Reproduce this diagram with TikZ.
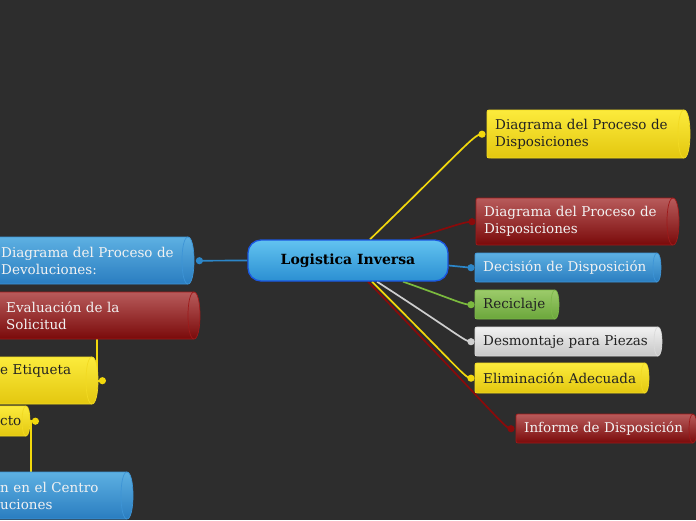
\documentclass[tikz,border=0pt]{standalone}
\usepackage{fontspec}
\setmainfont{DejaVu Serif}
\usetikzlibrary{calc}
\definecolor{bgc}{HTML}{2D2D2D}
\definecolor{ctrtop}{HTML}{62C3F0}
\definecolor{ctrbot}{HTML}{2B8FD2}
\definecolor{ctredge}{HTML}{1A56E0}
\definecolor{bluetop}{HTML}{5DB0E2}
\definecolor{bluebot}{HTML}{2A7DC0}
\definecolor{blueedgec}{HTML}{3D94D6}
\definecolor{redtop}{HTML}{B85B5B}
\definecolor{redbot}{HTML}{7A0A0A}
\definecolor{rededgec}{HTML}{9E1A1A}
\definecolor{yeltop}{HTML}{FCEB3C}
\definecolor{yelbot}{HTML}{E3C70F}
\definecolor{yeledgec}{HTML}{F2DA22}
\definecolor{grntop}{HTML}{9CCB6A}
\definecolor{grnbot}{HTML}{6BA63B}
\definecolor{grnedgec}{HTML}{7DB84A}
\definecolor{grytop}{HTML}{F2F2F2}
\definecolor{grybot}{HTML}{C6C6C6}
\definecolor{gryedgec}{HTML}{DADADA}
\definecolor{lnyel}{HTML}{F2D80C}
\definecolor{lnred}{HTML}{8A0A0A}
\definecolor{lnblue}{HTML}{2C86C8}
\definecolor{lngrn}{HTML}{7BBA3E}
\definecolor{lngry}{HTML}{CFCFCF}
\definecolor{lighttext}{HTML}{F2F2F2}
\definecolor{darktext}{HTML}{222222}
\pgfdeclarelayer{bglayer}
\pgfdeclarelayer{connlayer}
\pgfsetlayers{bglayer,connlayer,main}
\tikzset{
  boxtext/.style={inner xsep=8pt, inner ysep=0pt, align=left, font=\fontsize{13.5}{17}\selectfont},
  bluefill/.style={top color=bluetop, bottom color=bluebot, draw=blueedgec, line width=0.7pt},
  blueedge/.style={draw=blueedgec, line width=0.7pt},
  bluetext/.style={text=lighttext},
  redfill/.style={top color=redtop, bottom color=redbot, draw=rededgec, line width=0.7pt},
  rededge/.style={draw=rededgec, line width=0.7pt},
  redtext/.style={text=lighttext},
  yelfill/.style={top color=yeltop, bottom color=yelbot, draw=yeledgec, line width=0.7pt},
  yeledge/.style={draw=yeledgec, line width=0.7pt},
  yeltext/.style={text=darktext},
  grnfill/.style={top color=grntop, bottom color=grnbot, draw=grnedgec, line width=0.7pt},
  grnedge/.style={draw=grnedgec, line width=0.7pt},
  grntext/.style={text=darktext},
  gryfill/.style={top color=grytop, bottom color=grybot, draw=gryedgec, line width=0.7pt},
  gryedge/.style={draw=gryedgec, line width=0.7pt},
  grytext/.style={text=darktext},
  ctrbox/.style={rounded corners=13pt, minimum width=200pt, minimum height=41pt,
    top color=ctrtop, bottom color=ctrbot, draw=ctredge, line width=1.3pt,
    font=\fontsize{14}{17}\selectfont\bfseries, text=black},
  conn/.style={line width=1.7pt},
}
\newcommand\mmbox[8]{%
  \pgfmathsetmacro\mmW{#4-(#2)}%
  \pgfmathsetmacro\mmH{#5-(#3)}%
  \pgfmathsetmacro\mmT{#4-(#2)-16}%
  \shade[#7fill] ({#4-#6},#3) -- ({#2+4},#3) .. controls (#2,#3) .. ({#2},{#3+4})
     -- (#2,{#5-4}) .. controls (#2,#5) .. ({#2+4},#5) -- ({#4-#6},#5)
     .. controls ({#4+#6/3},#5) and ({#4+#6/3},#3) .. ({#4-#6},#3) -- cycle;
  \draw[#7edge] ({#4-#6},#3) .. controls ({#4-#6-4*#6/3},#3) and ({#4-#6-4*#6/3},#5) .. ({#4-#6},#5);
  \node[boxtext, #7text, anchor=north west, minimum width=\mmW pt, minimum height=\mmH pt, text width=\mmT pt] (#1) at (#2,#3) {#8};
}
\begin{document}
\begin{tikzpicture}[x=1pt,y=-1pt]
\useasboundingbox (0,0) rectangle (696,520);
\begin{pgfonlayer}{bglayer}
  \fill[bgc] (0,0) rectangle (696,520);
\end{pgfonlayer}
% central
\node[ctrbox] (ctr) at (348,260.5) {Logistica Inversa};
% right side
\mmbox{r1}{487}{110}{690}{158}{6}{yel}{\mbox{Diagrama del Proceso de}\\\mbox{Disposiciones}}
\mmbox{r2}{476}{198}{679}{245}{6}{red}{\mbox{Diagrama del Proceso de}\\\mbox{Disposiciones}}
\mmbox{r3}{475}{253}{661}{282}{4}{blue}{\mbox{Decisión de Disposición}}
\mmbox{r4}{475}{290}{559}{319}{4}{grn}{\mbox{Reciclaje}}
\mmbox{r5}{475}{327}{662}{356}{4}{gry}{\mbox{Desmontaje para Piezas}}
\mmbox{r6}{475}{363}{649}{393}{4}{yel}{\mbox{Eliminación Adecuada}}
\mmbox{r7}{516}{414}{697}{443}{4}{red}{\mbox{Informe de Disposición}}
% left side
\mmbox{lA}{-7}{237}{194}{284}{6}{blue}{\mbox{Diagrama del Proceso de}\\\mbox{Devoluciones:}}
\mmbox{lB}{-2}{292}{200}{339}{6}{red}{\mbox{Evaluación de la}\\\mbox{Solicitud}}
\mmbox{lC}{-8}{357}{98}{404}{6}{yel}{\mbox{e Etiqueta}\\\mbox{}\strut}
\mmbox{lD}{-8}{406}{30}{436}{4}{yel}{\mbox{cto}}
\mmbox{lE}{-8}{472}{133}{519}{6}{blue}{\mbox{n en el Centro}\\\mbox{uciones}}
% dot coordinates
\coordinate (d1) at ([xshift=-5pt]r1.west);
\coordinate (d2) at ([xshift=-4pt]r2.west);
\coordinate (d3) at ([xshift=-4pt]r3.west);
\coordinate (d4) at ([xshift=-4pt]r4.west);
\coordinate (d5) at ([xshift=-4pt]r5.west);
\coordinate (d6) at ([xshift=-4pt]r6.west);
\coordinate (d7) at ([xshift=-5pt]r7.west);
\coordinate (dA) at ([xshift=5pt]lA.east);
\coordinate (dC) at ([xshift=4pt]lC.east);
\coordinate (dD) at ([xshift=5pt]lD.east);
\begin{pgfonlayer}{connlayer}
  \draw[conn, lnyel] ([xshift=22pt]ctr.north) .. controls ($(d1)+(-14,10)$) and ($(d1)+(-8,0)$) .. (d1);
  \draw[conn, lnred] ([xshift=62pt]ctr.north) .. controls ($(d2)+(-20,5)$) and ($(d2)+(-8,0)$) .. (d2);
  \draw[conn, lnblue] ([yshift=-5pt]ctr.east) -- (d3);
  \draw[conn, lngrn] ([xshift=55pt]ctr.south) .. controls ($(d4)+(-14,-4)$) and ($(d4)+(-8,0)$) .. (d4);
  \draw[conn, lngry] ([xshift=29pt]ctr.south) .. controls ($(d5)+(-12,-7)$) and ($(d5)+(-6,0)$) .. (d5);
  \draw[conn, lnyel] ([xshift=24pt]ctr.south) .. controls ($(d6)+(-12,-10)$) and ($(d6)+(-6,0)$) .. (d6);
  \draw[conn, lnred] ([xshift=20pt]ctr.south) .. controls ($(d7)+(-12,-11)$) and ($(d7)+(-6,0)$) .. (d7);
  \draw[conn, lnblue] (ctr.west) -- (dA);
  \draw[conn, lnyel] ([xshift=-2pt]lB.south) |- (dC);
  \draw[conn, lnyel] (dD) -| ([xshift=-31.5pt]lE.north);
\end{pgfonlayer}
\fill[lnyel] (d1) circle[radius=3.6];
\fill[lnred] (d2) circle[radius=3.6];
\fill[lnblue] (d3) circle[radius=3.6];
\fill[lngrn] (d4) circle[radius=3.6];
\fill[lngry] (d5) circle[radius=3.6];
\fill[lnyel] (d6) circle[radius=3.6];
\fill[lnred] (d7) circle[radius=3.6];
\fill[lnblue] (dA) circle[radius=3.6];
\fill[lnyel] (dC) circle[radius=3.6];
\fill[lnyel] (dD) circle[radius=3.6];
\end{tikzpicture}
\end{document}
